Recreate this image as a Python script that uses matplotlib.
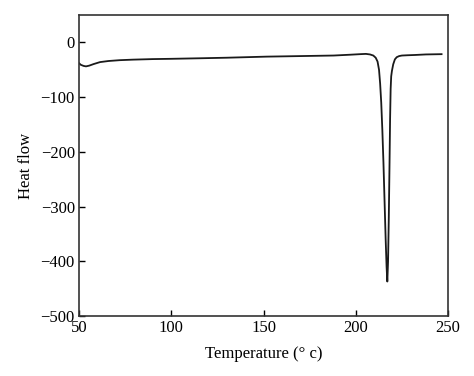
import matplotlib
matplotlib.use("Agg")
import matplotlib.pyplot as plt
import numpy as np

temperature = [50.0, 51.0, 52.5, 53.8, 55.5, 58.0, 61.4, 66.0, 72.0, 79.3, 90.0, 100.0, 115.6, 130.0, 151.8, 170.0, 188.0, 197.0, 202.3, 205.5, 207.7, 209.5, 210.8, 211.8, 212.6, 213.2, 213.8, 214.4, 215.0, 215.6, 216.2, 216.7, 217.1, 217.5, 217.9, 218.3, 218.6, 218.9, 219.2, 219.6, 220.3, 221.2, 222.2, 223.5, 225.0, 228.0, 232.0, 238.0, 246.5]
heat_flow = [-38.0, -41.0, -43.0, -43.8, -42.5, -39.5, -36.0, -34.0, -32.5, -31.5, -30.5, -30.0, -29.0, -28.0, -26.0, -25.0, -24.0, -22.5, -21.5, -21.0, -22.0, -24.0, -28.0, -35.0, -50.0, -75.0, -110.0, -160.0, -220.0, -290.0, -360.0, -410.0, -437.0, -400.0, -320.0, -220.0, -140.0, -85.0, -62.0, -52.0, -40.0, -31.0, -27.0, -25.0, -24.0, -23.5, -23.0, -22.0, -21.5]

x_ticks = [50, 100, 150, 200, 250]
y_ticks = [0, -100, -200, -300, -400, -500]

plt.rcParams['font.family'] = ['Liberation Serif', 'DejaVu Serif']
plt.rcParams['axes.unicode_minus'] = True

fig = plt.figure(figsize=(4.74, 3.76), dpi=100)
ax = fig.add_axes([0.1667, 0.1596, 0.7785, 0.8004])
ax.plot(temperature, heat_flow, color='#1a1a1a', lw=1.3)
ax.set_xlim(50, 250)
ax.set_ylim(-500, 50)
ax.set_xticks(x_ticks)
ax.set_yticks(y_ticks)
ax.tick_params(direction='in', length=4, width=1, labelsize=12, top=False, right=False, pad=3)
for s in ax.spines.values():
    s.set_linewidth(1.2)
    s.set_color('#333333')
ax.set_xlabel('Temperature (° c)', fontsize=12, labelpad=7)
ax.set_ylabel('Heat flow', fontsize=12, labelpad=5)
fig.savefig('out.png', dpi=100)
